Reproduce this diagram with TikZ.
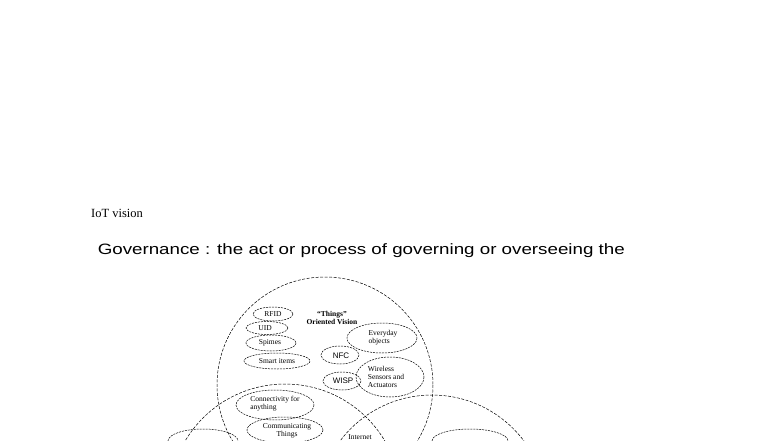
\documentclass[tikz,border=0pt]{standalone}
\usepackage{fontspec}
\setmainfont{Liberation Serif}
\newfontfamily\arialf{Liberation Sans}
\begin{document}
\begin{tikzpicture}[x=1pt,y=-1pt,
  ci/.style={draw,dashed,dash pattern=on 3pt off 1.5pt,line width=0.5pt},
  tx/.style={font=\fontsize{7.5}{8}\selectfont,align=left,inner sep=0pt}]
\useasboundingbox (0,0) rectangle (784,441);
\begin{scope}
\clip (0,0) rectangle (784,441);
\draw[ci] (325,385) circle (108);
\draw[ci] (285,500) circle (116);
\draw[ci] (432,510) circle (115);
\foreach \n/\x/\y/\w/\h in {rfid/273/314/40/14, uid/267/328/42/13, spr/271/343/50/16, smi/277/361/66/16,
  evo/382/338/70/30, nfc/340/355/38/18, wir/390/377/68/40, wis/342/381/38/18,
  con/275/405/78/30, com/285/430/76/26, lb/203/441/70/24, rb/470/441/76/24}
  \draw[dashed,dash pattern=on 2pt off 1pt,line width=0.5pt] (\x,\y) ellipse ({\w/2} and {\h/2});
\end{scope}
\node[tx] (t1) at (273,314) {RFID};
\node[tx] (t2) at (265,328) {UID};
\node[tx] (t3) at (270,343) {Spimes};
\node[tx] (t4) at (277,361) {Smart items};
\node[tx] (t5) at (383,338) {Everyday\\objects};
\node[tx,font=\arialf\fontsize{8}{9}\selectfont] (t6) at (341,356) {NFC};
\node[tx] (t7) at (386,377) {Wireless\\Sensors and\\Actuators};
\node[tx,font=\arialf\fontsize{8}{9}\selectfont] (t8) at (343,381) {WISP};
\node[tx] (t9) at (275,404) {Connectivity for\\anything};
\node[tx,align=center] (t10) at (287,431) {Communicating\\Things};
\node[tx] (t11) at (360,437) {Internet};
\node[tx,align=center,font=\bfseries\fontsize{7.5}{8}\selectfont] (t12) at (332,318) {``Things''\\Oriented Vision};
\node[anchor=west,inner sep=0pt,font=\fontsize{12.5}{14}\selectfont] (iot) at (91,213) {IoT vision};
\node[anchor=west,inner sep=0pt,xscale=1.25,font=\arialf\fontsize{15}{17}\selectfont] (gov) at (97.5,251) {Governance : the act or process of governing or overseeing the};
\end{tikzpicture}
\end{document}
